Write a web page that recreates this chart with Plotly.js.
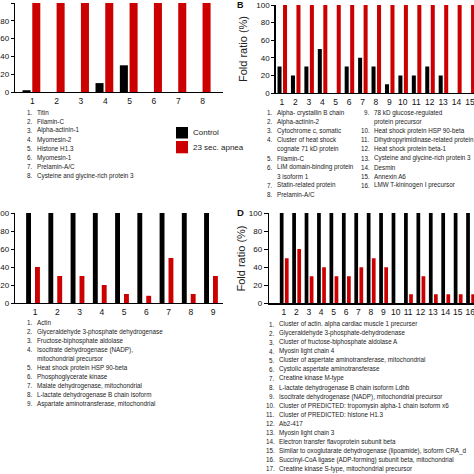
<!DOCTYPE html>
<html>
<head>
<meta charset="utf-8">
<script src="https://cdn.plot.ly/plotly-3.0.1.min.js"></script>
<style>
  html, body { margin: 0; padding: 0; background: #fff; }
  #chart { width: 474px; height: 474px; }
</style>
</head>
<body>
<div id="chart"></div>
<script>
// ---- Panel A: proteins 1-8 ----
const catsA = ['1', '2', '3', '4', '5', '6', '7', '8'];
const controlA = [2, 0, 0, 10, 30, 0, 0, 0];
const apneaA = [100, 100, 100, 100, 100, 100, 100, 100];
const namesA = [
  ['Titin'], ['Filamin-C'], ['Alpha-actinin-1'], ['Myomesin-2'], ['Histone H1.3'],
  ['Myomesin-1'], ['Prelamin-A/C'], ['Cysteine and glycine-rich protein 3']
];

// ---- Panel B: proteins 1-16 ----
const catsB = ['1', '2', '3', '4', '5', '6', '7', '8', '9', '10', '11', '12', '13', '14', '15', '16'];
const controlB = [30, 20, 30, 50, 0, 30, 40, 30, 10, 20, 20, 30, 20, 0, 0, 0];
const apneaB = [100, 100, 100, 100, 100, 100, 100, 100, 100, 100, 100, 100, 100, 100, 100, 100];
const namesB = [
  ['Alpha- crystallin B chain'], ['Alpha-actinin-2'], ['Cytochrome c, somatic'],
  ['Cluster of heat shock', 'cognate 71 kD protein'], ['Filamin-C'],
  ['LIM domain-binding protein', '3 isoform 1'], ['Statin-related protein'], ['Prelamin-A/C'],
  ['78 kD glucose-regulated', 'protein precursor'], ['Heat shock protein HSP 90-beta'],
  ['Dihydropyrimidinase-related protein 2'], ['Heat shock protein beta-1'],
  ['Cysteine and glycine-rich protein 3'], ['Desmin'], ['Annexin A6'],
  ['LMW T-kininogen I precursor']
];

// ---- Panel C: proteins 1-9 ----
const catsC = ['1', '2', '3', '4', '5', '6', '7', '8', '9'];
const controlC = [100, 100, 100, 100, 100, 100, 100, 100, 100];
const apneaC = [40, 30, 30, 20, 10, 8, 50, 10, 30];
const namesC = [
  ['Actin'], ['Glyceraldehyde 3-phosphate dehydrogenase'], ['Fructose-biphosphate aldolase'],
  ['Isocitrate dehydrogenase (NADP),', 'mitochondrial precursor'],
  ['Heat shock protein HSP 90-beta'], ['Phosphoglycerate kinase'],
  ['Malate dehydrogenase, mitochondrial'], ['L-lactate dehydrogenase B chain isoform'],
  ['Aspartate aminotransferase, mitochondrial']
];

// ---- Panel D: proteins 1-17 ----
const catsD = ['1', '2', '3', '4', '5', '6', '7', '8', '9', '10', '11', '12', '13', '14', '15', '16', '17'];
const controlD = [100, 100, 100, 100, 100, 100, 100, 100, 100, 100, 100, 100, 100, 100, 100, 100, 100];
const apneaD = [50, 60, 30, 40, 30, 30, 40, 50, 40, 0, 10, 30, 10, 10, 10, 10, 10];
const namesD = [
  ['Cluster of actin. alpha cardiac muscle 1 precurser'],
  ['Glyceraldehyde 3-phosphate-dehydrodenase'],
  ['Cluster of fructose-biphosphate aldolase A'],
  ['Myosin light chain 4'],
  ['Cluster of aspertate aminotransferase, mitochondrial'],
  ['Cystolic aspertate aminotransferase'],
  ['Creatine kinase M-type'],
  ['L-lactate dehydrogenase B chain isoform Ldhb'],
  ['Isocitrate dehydrogenase (NADP), mitochondrial precursor'],
  ['Cluster of PREDICTED: tropomysin alpha-1 chain isoform x6'],
  ['Cluster of PREDICTED: histone H1.3'],
  ['Ab2-417'],
  ['Myosin light chain 3'],
  ['Electron transfer flavoprotein subunit beta'],
  ['Similar to oxoglutarate dehydrogenase (lipoamide), isoform CRA_d'],
  ['Succinyl-CoA ligase (ADP-forming) subunit beta, mitochondrial'],
  ['Creatine kinase S-type, mitochondrial precursor']
];

const seriesNames = ['Control', '23 sec. apnea'];
const yTicks = [0, 20, 40, 60, 80, 100];

// ---- styling ----
const W = 474, H = 474;
const FONT = '"Liberation Sans", Arial, Helvetica, sans-serif';
const BLACK = '#000000';
const RED = '#cc0000';
const px = v => v / W;          // pixel -> paper x
const py = v => 1 - v / H;      // pixel (from top) -> paper y

function barPair(cats, ctrl, apn, xa, ya, bw, blackOff, redOff) {
  return [
    { type: 'bar', x: cats, y: ctrl, name: seriesNames[0], xaxis: xa, yaxis: ya,
      marker: { color: BLACK, line: { width: 0 } }, width: bw, offset: blackOff,
      showlegend: false, hoverinfo: 'skip' },
    { type: 'bar', x: cats, y: apn, name: seriesNames[1], xaxis: xa, yaxis: ya,
      marker: { color: RED, line: { width: 0 } }, width: bw, offset: redOff,
      showlegend: false, hoverinfo: 'skip' }
  ];
}

const data = [].concat(
  barPair(catsA, controlA, apneaA, 'x', 'y', 0.33, -0.40, 0.0),
  barPair(catsB, controlB, apneaB, 'x2', 'y2', 0.30, -0.33, 0.08),
  barPair(catsC, controlC, apneaC, 'x3', 'y3', 0.22, -0.40, 0.0),
  barPair(catsD, controlD, apneaD, 'x4', 'y4', 0.30, -0.33, 0.08)
);

function xAxis(domain, range, anchor) {
  return {
    domain: domain, range: range, anchor: anchor, type: 'category',
    showline: true, linecolor: BLACK, linewidth: 1.3, ticks: '',
    showgrid: false, zeroline: false, fixedrange: true,
    tickfont: { family: FONT, size: 8.5, color: '#111' }
  };
}
function yAxis(domain, anchor, ticklen) {
  return {
    domain: domain, range: [0, 100], anchor: anchor,
    showline: true, linecolor: BLACK, linewidth: 1.3,
    ticks: 'outside', ticklen: ticklen, tickwidth: 1, tickcolor: BLACK,
    tickvals: yTicks, showgrid: false, zeroline: false, fixedrange: true,
    tickfont: { family: FONT, size: 8, color: '#111' }
  };
}

const annotations = [];
const shapes = [];

function addText(x, y, text, size, anchor, extra) {
  annotations.push(Object.assign({
    xref: 'paper', yref: 'paper', x: px(x), y: py(y), text: text,
    showarrow: false, xanchor: anchor, yanchor: 'middle', borderpad: 0,
    font: { family: FONT, size: size, color: '#222' }
  }, extra || {}));
}

// numbered protein lists under each panel
function addList(items, startIdx, endIdx, numRight, textLeft, y0, dy) {
  let line = 0;
  for (let i = startIdx; i < endIdx; i++) {
    addText(numRight, y0 + line * dy, (i + 1) + '.', 6.3, 'right');
    items[i].forEach(t => {
      addText(textLeft, y0 + line * dy, t, 6.3, 'left');
      line++;
    });
  }
}
addList(namesA, 0, 8, 33.5, 35.5, 112.3, 9.07);
addList(namesB, 0, 8, 274, 275.8, 112.7, 9.07);
addList(namesB, 8, 16, 370.5, 373, 112.7, 9.07);
addList(namesC, 0, 9, 33.5, 35.5, 322.5, 9.04);
addList(namesD, 0, 17, 276, 277.8, 324.3, 9.03);

// axis titles and panel letters
addText(243, 49, 'Fold ratio (%)', 11, 'center', { textangle: -90, font: { family: FONT, size: 11, color: '#222' } });
addText(240.5, 258, 'Fold ratio (%)', 11, 'center', { textangle: -90, font: { family: FONT, size: 11, color: '#222' } });
addText(240.5, 5, '<b>B</b>', 9, 'center', { font: { family: FONT, size: 9, color: '#111' } });
addText(240.5, 213, '<b>D</b>', 9.5, 'center', { font: { family: FONT, size: 9.5, color: '#111' } });

// legend
shapes.push({ type: 'rect', xref: 'paper', yref: 'paper', x0: px(176), x1: px(188), y0: py(138.5), y1: py(127), fillcolor: BLACK, line: { width: 0 } });
shapes.push({ type: 'rect', xref: 'paper', yref: 'paper', x0: px(176), x1: px(188), y0: py(153.3), y1: py(141), fillcolor: RED, line: { width: 0 } });
addText(191.5, 132.5, seriesNames[0], 8, 'left', { font: { family: FONT, size: 8, color: '#222' } });
addText(191.5, 147.5, seriesNames[1], 8, 'left', { font: { family: FONT, size: 8, color: '#222' } });

const layout = {
  width: W, height: H,
  margin: { l: 0, r: 0, t: 0, b: 0, pad: 0 },
  paper_bgcolor: '#ffffff', plot_bgcolor: 'rgba(0,0,0,0)',
  barmode: 'overlay', showlegend: false,
  font: { family: FONT, size: 8, color: '#222' },
  xaxis: xAxis([px(15), px(223)], [-0.71, 7.84], 'y'),
  yaxis: yAxis([py(92), py(3)], 'x', 3),
  xaxis2: xAxis([px(275.5), 1], [-0.48, 14.3], 'y2'),
  yaxis2: yAxis([py(93), py(5)], 'x2', 3),
  xaxis3: xAxis([px(15), px(223)], [-0.9, 8.45], 'y3'),
  yaxis3: yAxis([py(303), py(213)], 'x3', 3),
  xaxis4: xAxis([px(269), 1], [-1.2, 15.3], 'y4'),
  yaxis4: yAxis([py(303.3), py(213)], 'x4', 4),
  annotations: annotations,
  shapes: shapes
};

Plotly.newPlot('chart', data, layout, { staticPlot: true, displayModeBar: false });
</script>
</body>
</html>
